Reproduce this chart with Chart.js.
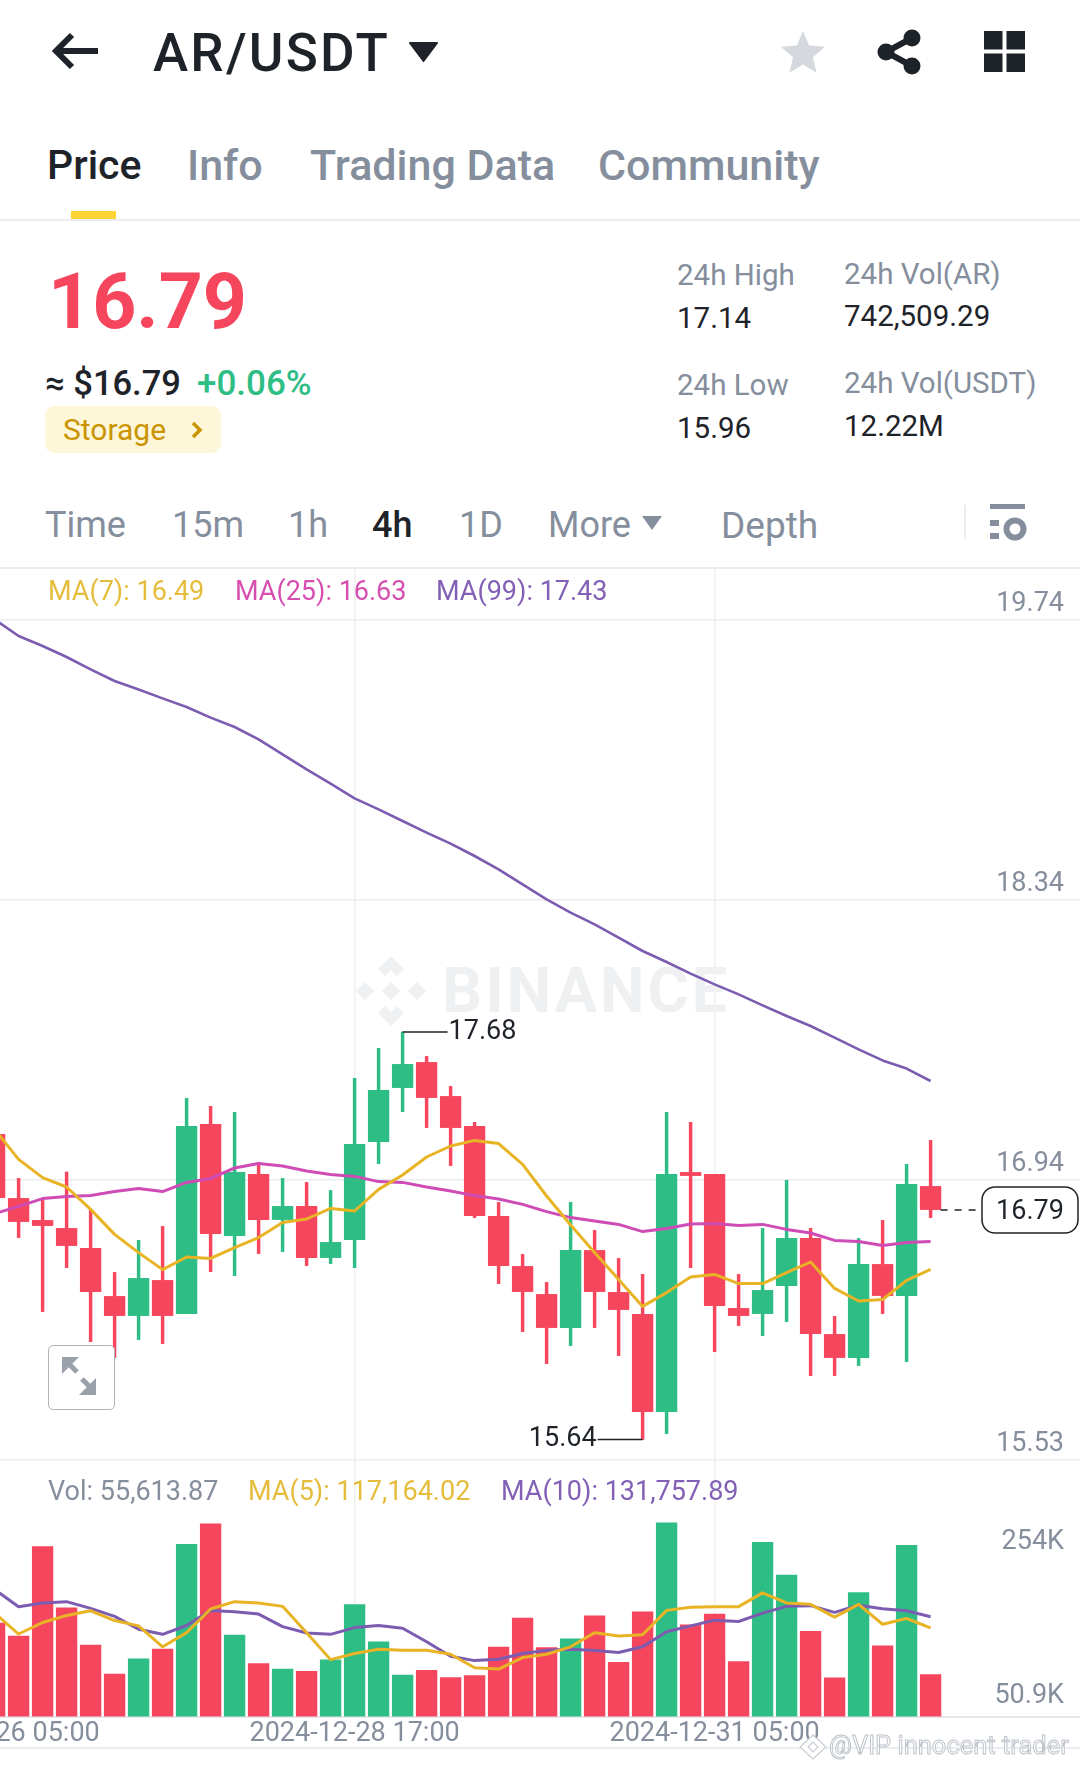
<!DOCTYPE html>
<html>
<head>
<meta charset="utf-8">
<title>AR/USDT</title>
<script src="https://cdn.jsdelivr.net/npm/chart.js@4"></script>
<style>
  html, body { margin: 0; padding: 0; background: #fff; }
  #page { position: relative; width: 1080px; height: 1767px; overflow: hidden; font-family: Roboto, sans-serif; color: #1e2329; }
  .t { position: absolute; white-space: nowrap; line-height: 1; transform: translateY(-50%); }
  .grey { color: #848e9c; }
  .rule { position: absolute; left: 0; width: 1080px; height: 2px; background: #eaecef; }
  svg { position: absolute; }
  canvas { position: absolute; left: 0; display: block; }
  #priceCanvas { top: 568px; }
  #volCanvas { top: 1459px; }
</style>
</head>
<body>
<div id="page">
  <!-- header -->
  <svg style="left:52px;top:32px" width="47" height="38" viewBox="0 0 47 38"><path d="M20 3 L4 19 L20 35 M4 19 H46" fill="none" stroke="#1e2329" stroke-width="6"/></svg>
  <div class="t" style="left:153px;top:53px;font-size:53px;font-weight:500;letter-spacing:2.2px">AR/USDT</div>
  <svg style="left:409px;top:42px" width="29" height="20" viewBox="0 0 29 20"><path d="M1 1 H28 L14.5 19 Z" fill="#1e2329" stroke="#1e2329" stroke-linejoin="round" stroke-width="2"/></svg>
  <svg style="left:780px;top:29px" width="46" height="46" viewBox="0 0 24 24"><path d="M12 1 L15.2 8.6 L23.5 9.3 L17.2 14.7 L19.1 22.8 L12 18.5 L4.9 22.8 L6.8 14.7 L0.5 9.3 L8.8 8.6 Z" fill="#d5d9de"/></svg>
  <svg style="left:876px;top:29px" width="46" height="46" viewBox="0 0 46 46"><path d="M36 9 L10 23 L36 37" fill="none" stroke="#1e2329" stroke-width="6"/><circle cx="36" cy="9" r="8.5" fill="#1e2329"/><circle cx="10" cy="23" r="8.5" fill="#1e2329"/><circle cx="36" cy="37" r="8.5" fill="#1e2329"/></svg>
  <svg style="left:984px;top:31px" width="41" height="41" viewBox="0 0 41 41"><rect width="18.5" height="18.5" fill="#1e2329"/><rect x="22.5" width="18.5" height="18.5" fill="#1e2329"/><rect y="22.5" width="18.5" height="18.5" fill="#1e2329"/><rect x="22.5" y="22.5" width="18.5" height="18.5" fill="#1e2329"/></svg>

  <!-- tabs -->
  <div class="t" style="left:47px;top:165px;font-size:41px;font-weight:500">Price</div>
  <div class="t grey" style="left:187px;top:165px;font-size:43px;font-weight:500">Info</div>
  <div class="t grey" style="left:310px;top:165px;font-size:43px;font-weight:500">Trading Data</div>
  <div class="t grey" style="left:598px;top:165px;font-size:43px;font-weight:500">Community</div>
  <div style="position:absolute;left:71px;top:211px;width:45px;height:8px;background:#fcd535"></div>
  <div class="rule" style="top:219px"></div>

  <!-- price block -->
  <div class="t" style="left:48px;top:302px;font-size:77px;font-weight:700;color:#f6465d">16.79</div>
  <div class="t" style="left:45px;top:383px;font-size:34.5px;font-weight:500">≈ $16.79</div>
  <div class="t" style="left:197px;top:383px;font-size:35px;font-weight:500;color:#2ebd85">+0.06%</div>
  <div style="position:absolute;left:45px;top:406px;width:176px;height:47px;border-radius:9px;background:#fef6d8"></div>
  <div class="t" style="left:63px;top:430px;font-size:30px;color:#c99400">Storage</div>
  <svg style="left:191px;top:421px" width="12" height="18" viewBox="0 0 12 18"><path d="M2 2 L9 9 L2 16" fill="none" stroke="#c99400" stroke-width="3.5"/></svg>

  <div class="t grey" style="left:677px;top:276px;font-size:29.5px">24h High</div>
  <div class="t" style="left:677px;top:319px;font-size:29.5px">17.14</div>
  <div class="t grey" style="left:844px;top:275px;font-size:29.5px">24h Vol(AR)</div>
  <div class="t" style="left:844px;top:317px;font-size:29.5px">742,509.29</div>
  <div class="t grey" style="left:677px;top:386px;font-size:29.5px">24h Low</div>
  <div class="t" style="left:677px;top:429px;font-size:29.5px">15.96</div>
  <div class="t grey" style="left:844px;top:384px;font-size:29.5px">24h Vol(USDT)</div>
  <div class="t" style="left:844px;top:427px;font-size:29.5px">12.22M</div>

  <!-- interval bar -->
  <div class="t grey" style="left:45px;top:525px;font-size:36px">Time</div>
  <div class="t grey" style="left:172px;top:525px;font-size:36px">15m</div>
  <div class="t grey" style="left:288px;top:525px;font-size:36px">1h</div>
  <div class="t" style="left:372px;top:525px;font-size:36px;font-weight:500">4h</div>
  <div class="t grey" style="left:459px;top:525px;font-size:36px">1D</div>
  <div class="t grey" style="left:548px;top:525px;font-size:36px">More</div>
  <svg style="left:641px;top:515px" width="22" height="16" viewBox="0 0 22 16"><path d="M1 1 H21 L11 15 Z" fill="#848e9c"/></svg>
  <div class="t grey" style="left:721px;top:525px;font-size:37px">Depth</div>
  <div style="position:absolute;left:964px;top:505px;width:2px;height:34px;background:#eaecef"></div>
  <svg style="left:990px;top:504px" width="38" height="38" viewBox="0 0 38 38"><g fill="#848e9c"><rect width="35" height="5"/><rect y="16" width="9" height="6"/><rect y="29" width="9" height="6"/></g><circle cx="25" cy="25" r="8.5" fill="none" stroke="#848e9c" stroke-width="6"/></svg>
  <div class="rule" style="top:567px"></div>

  <!-- watermark under the charts -->
  <svg style="left:354px;top:954px" width="74" height="74" viewBox="0 0 74 74"><g fill="#eef0f2"><path d="M37 2 L50 15 L43 22 L37 16 L31 22 L24 15 Z"/><path d="M2 37 L11 28 L20 37 L11 46 Z"/><path d="M54 37 L63 28 L72 37 L63 46 Z"/><path d="M37 28 L46 37 L37 46 L28 37 Z"/><path d="M37 72 L24 59 L31 52 L37 58 L43 52 L50 59 Z"/></g></svg>
  <div class="t" style="left:442px;top:990px;font-size:63px;font-weight:700;color:#eef0f2;letter-spacing:3px">BINANCE</div>

  <canvas id="priceCanvas" width="1080" height="895"></canvas>
  <canvas id="volCanvas" width="1080" height="292"></canvas>

  <div class="t" style="left:48px;top:591px;font-size:27px;color:#e6bc3c">MA(7): 16.49</div>
  <div class="t" style="left:235px;top:591px;font-size:27px;color:#d64fb0">MA(25): 16.63</div>
  <div class="t" style="left:436px;top:591px;font-size:27px;color:#8260b5">MA(99): 17.43</div>

  <div style="position:absolute;left:48px;top:1345px;width:65px;height:63px;border:1.5px solid #aeb4bc;border-radius:5px;background:#fff"></div>
  <svg style="left:61px;top:1356px" width="40" height="42" viewBox="0 0 40 42"><g fill="#9aa1ab"><path d="M1 1 H18 L1 18 Z"/><path d="M35 39 H18 L35 22 Z"/></g><path d="M8 8 L16 16 M28 30 L21 23" stroke="#9aa1ab" stroke-width="5"/></svg>

  <div class="t grey" style="left:48px;top:1491px;font-size:27px">Vol: 55,613.87</div>
  <div class="t" style="left:248px;top:1491px;font-size:27px;color:#e6bc3c">MA(5): 117,164.02</div>
  <div class="t" style="left:501px;top:1491px;font-size:27px;color:#8260b5">MA(10): 131,757.89</div>

  <div class="rule" style="top:1747px"></div>
  <svg style="left:798px;top:1733px" width="30" height="28" viewBox="0 0 30 28"><path d="M15 2 L28 14 L15 26 L2 14 Z M15 9 L20 14 L15 19 L10 14 Z" fill="#fff" stroke="#c8cdd3" stroke-width="1.2"/></svg>
  <div class="t" style="left:829px;top:1746px;font-size:25.5px;color:#fff;-webkit-text-stroke:1px #bfc5cc">@VIP innocent trader</div>
</div>

<script>
// candles, oldest first, one every 4 hours from 2024-12-26 05:00
const opens = [17.168, 16.848, 16.738, 16.698, 16.598, 16.358, 16.262, 16.438, 16.272, 17.218,
  16.662, 16.968, 16.742, 16.808, 16.552, 16.642, 17.132, 17.402, 17.528, 17.358,
  17.208, 16.758, 16.508, 16.368, 16.202, 16.588, 16.378, 16.268, 15.782, 16.978,
  16.968, 16.298, 16.272, 16.412, 16.648, 16.168, 16.052, 16.518, 16.362, 16.908];
const closes = [16.852, 16.732, 16.712, 16.612, 16.382, 16.262, 16.448, 16.262, 17.208, 16.672,
  16.978, 16.742, 16.808, 16.552, 16.628, 17.118, 17.388, 17.518, 17.352, 17.202,
  16.762, 16.512, 16.382, 16.202, 16.588, 16.382, 16.292, 15.782, 16.968, 16.962,
  16.312, 16.262, 16.388, 16.648, 16.172, 16.052, 16.518, 16.362, 16.918, 16.792];
const highs = [17.25, 16.948, 16.843, 16.98, 16.793, 16.478, 16.638, 16.708, 17.348, 17.308,
  17.278, 17.027, 16.948, 16.928, 16.888, 17.448, 17.598, 17.68, 17.558, 17.408,
  17.228, 16.828, 16.568, 16.428, 16.828, 16.688, 16.548, 16.468, 17.278, 17.228,
  16.968, 16.468, 16.698, 16.938, 16.698, 16.258, 16.648, 16.738, 17.018, 17.138];
const lows = [16.75, 16.652, 16.282, 16.502, 16.132, 16.052, 16.142, 16.122, 16.272, 16.482,
  16.462, 16.572, 16.582, 16.512, 16.522, 16.502, 17.022, 17.282, 17.202, 17.012,
  16.752, 16.422, 16.182, 16.022, 16.112, 16.202, 16.062, 15.643, 15.672, 16.502,
  16.082, 16.212, 16.162, 16.232, 15.962, 15.962, 16.012, 16.272, 16.032, 16.752];

const ma7 = [17.193, 17.043, 16.952, 16.905, 16.793, 16.668, 16.577, 16.492, 16.555, 16.548,
  16.602, 16.652, 16.728, 16.745, 16.798, 16.785, 16.893, 16.965, 17.055, 17.11,
  17.138, 17.122, 17.018, 16.86, 16.715, 16.577, 16.443, 16.308, 16.377, 16.455,
  16.468, 16.422, 16.422, 16.477, 16.53, 16.398, 16.335, 16.342, 16.438, 16.493];
const ma25 = [16.772, 16.808, 16.847, 16.857, 16.863, 16.883, 16.897, 16.882, 16.928, 16.948,
  17.0, 17.022, 17.01, 16.985, 16.967, 16.958, 16.932, 16.928, 16.905, 16.885,
  16.862, 16.845, 16.818, 16.782, 16.752, 16.735, 16.718, 16.682, 16.698, 16.72,
  16.722, 16.713, 16.718, 16.693, 16.675, 16.638, 16.632, 16.612, 16.628, 16.633];
const ma99 = [19.743, 19.66, 19.61, 19.555, 19.493, 19.435, 19.393, 19.348, 19.305, 19.252,
  19.205, 19.143, 19.068, 18.993, 18.922, 18.848, 18.793, 18.735, 18.677, 18.622,
  18.56, 18.493, 18.418, 18.343, 18.277, 18.218, 18.152, 18.085, 18.03, 17.972,
  17.918, 17.868, 17.813, 17.76, 17.71, 17.652, 17.593, 17.538, 17.497, 17.435];

const volumes = [123300, 106400, 224300, 143700, 94300, 56100, 76100, 89000, 227400, 254500,
  107700, 69900, 62700, 59600, 74800, 147700, 98800, 54700, 61000, 51600,
  54300, 91700, 129900, 91200, 102800, 133000, 71600, 138400, 255900, 121000,
  135300, 72500, 230000, 186900, 112600, 51200, 163800, 93500, 226000, 55614];
const volMa5 = [136600, 109000, 124200, 133500, 139700, 126800, 119700, 92100, 110800, 142000,
  151700, 150000, 145500, 110800, 75200, 83200, 89000, 87700, 87700, 82300,
  64500, 62700, 77900, 82300, 92100, 110800, 106400, 108100, 140200, 144200,
  145100, 145100, 163300, 150000, 148200, 131300, 148200, 121900, 129500, 117164];
const volMa10 = [167800, 145100, 150000, 151700, 142800, 132200, 115300, 108600, 120200, 140200,
  138400, 135300, 118800, 110400, 108600, 117500, 120200, 116600, 98800, 79700,
  73900, 75700, 83200, 87700, 89000, 87200, 84600, 92100, 112100, 119700,
  127300, 125500, 136600, 145500, 146400, 137500, 146900, 142400, 139700, 131758];

const priceTicks = [15.54, 16.94, 18.34, 19.74];
const priceTickLabels = ['15.53', '16.94', '18.34', '19.74'];
const volTicks = [50900, 254000];
const volTickLabels = ['50.9K', '254K'];
const timeTicks = [0, 15, 30];
const timeLabels = ['2024-12-26 05:00', '2024-12-28 17:00', '2024-12-31 05:00'];
const lastPrice = 16.79;

const GREEN = '#2ebd85', RED = '#f6465d', GREY = '#848e9c', INK = '#1e2329';
const YELLOW = '#e8b425', PINK = '#cf4bb5', PURPLE = '#7c5cb0';
const FONT = 'Roboto';

const xRange = { min: 0.225, max: 45.225 };
const isUp = opens.map((o, i) => closes[i] > o);
const candleColors = isUp.map(u => u ? GREEN : RED);
const pts = arr => arr.map((y, x) => ({ x, y }));
const bars = (a, b) => a.map((v, x) => ({ x, y: [v, b[x]] }));

function line(label, data, color, width) {
  return { type: 'line', label, data: pts(data), borderColor: color, borderWidth: width, pointRadius: 0, tension: 0, borderJoinStyle: 'round', order: 0 };
}

function xScale(showLabels) {
  return {
    type: 'linear', bounds: 'data', offset: false, min: xRange.min, max: xRange.max,
    afterBuildTicks: s => { s.ticks = timeTicks.map(value => ({ value })); },
    afterFit: s => { s.paddingLeft = 0; s.paddingRight = 0; },
    grid: { offset: false, color: '#eff0f2', lineWidth: 1.5, drawTicks: false },
    border: { display: showLabels, color: '#e6e8ec', width: 2 },
    ticks: {
      display: showLabels, autoSkip: false, maxRotation: 0, minRotation: 0, padding: 1,
      color: GREY, font: { family: FONT, size: 27 },
      callback: v => timeLabels[timeTicks.indexOf(v)]
    }
  };
}

function yFit(s) {
  s.width = 0;
  s.paddingTop = 0;
  s.paddingBottom = 0;
}

// hi/lo call-outs and the last price tag
const priceNotes = {
  id: 'priceNotes',
  afterDatasetsDraw(chart) {
    const { ctx, scales: { x, y } } = chart;
    const hi = highs.indexOf(Math.max(...highs)), lo = lows.indexOf(Math.min(...lows));
    ctx.save();
    ctx.font = '27px ' + FONT;
    ctx.textBaseline = 'middle';
    ctx.strokeStyle = INK;
    ctx.fillStyle = INK;
    ctx.lineWidth = 1.5;

    const hx = x.getPixelForValue(hi), hy = y.getPixelForValue(highs[hi]);
    ctx.beginPath(); ctx.moveTo(hx, hy); ctx.lineTo(hx + 45, hy); ctx.stroke();
    ctx.textAlign = 'left';
    ctx.fillText(highs[hi].toFixed(2), hx + 46, hy);

    const lx = x.getPixelForValue(lo), ly = y.getPixelForValue(lows[lo]);
    ctx.beginPath(); ctx.moveTo(lx, ly); ctx.lineTo(lx - 45, ly); ctx.stroke();
    ctx.textAlign = 'right';
    ctx.fillText(lows[lo].toFixed(2), lx - 46, ly);

    const py = y.getPixelForValue(lastPrice);
    ctx.setLineDash([7, 7]);
    ctx.beginPath(); ctx.moveTo(x.getPixelForValue(39) + 10, py); ctx.lineTo(982, py); ctx.stroke();
    ctx.setLineDash([]);
    ctx.beginPath(); ctx.roundRect(982, py - 23, 96, 46, 13);
    ctx.fillStyle = '#fff'; ctx.fill(); ctx.stroke();
    ctx.fillStyle = INK;
    ctx.textAlign = 'center';
    ctx.fillText(lastPrice.toFixed(2), 1030, py + 2);
    ctx.restore();
  }
};

new Chart(document.getElementById('priceCanvas'), {
  type: 'bar',
  data: {
    datasets: [
      line('MA(7)', ma7, YELLOW, 3),
      line('MA(25)', ma25, PINK, 3),
      line('MA(99)', ma99, PURPLE, 2.6),
      { label: 'body', data: bars(opens, closes), backgroundColor: candleColors, barThickness: 20.7, grouped: false, order: 1 },
      { label: 'wick', data: bars(lows, highs), backgroundColor: candleColors, barThickness: 2.8, grouped: false, order: 2 }
    ]
  },
  options: {
    responsive: false, animation: false,
    layout: { padding: { bottom: 1 } },
    plugins: { legend: { display: false }, tooltip: { enabled: false } },
    scales: {
      x: xScale(false),
      y: {
        position: 'right', bounds: 'data', min: 15.53, max: 20,
        afterBuildTicks: s => { s.ticks = priceTicks.map(value => ({ value })); },
        afterFit: yFit,
        grid: { color: '#eaecef', lineWidth: 1.5, drawTicks: false },
        border: { display: false },
        ticks: { mirror: true, padding: -16, labelOffset: -16, color: GREY, font: { family: FONT, size: 27 }, callback: v => priceTickLabels[priceTicks.indexOf(v)] }
      }
    }
  },
  plugins: [priceNotes]
});

new Chart(document.getElementById('volCanvas'), {
  type: 'bar',
  data: {
    datasets: [
      line('MA(5)', volMa5, YELLOW, 3),
      line('MA(10)', volMa10, PURPLE, 3),
      { label: 'Vol', data: pts(volumes), backgroundColor: candleColors, barThickness: 20.7, grouped: false, order: 1 }
    ]
  },
  options: {
    responsive: false, animation: false,
    plugins: { legend: { display: false }, tooltip: { enabled: false } },
    scales: {
      x: xScale(true),
      y: {
        position: 'right', bounds: 'data', min: 0, max: 340000,
        afterBuildTicks: s => { s.ticks = volTicks.map(value => ({ value })); },
        afterFit: yFit,
        grid: { display: false, drawTicks: false },
        border: { display: false },
        ticks: { mirror: true, padding: -16, labelOffset: 18, color: GREY, font: { family: FONT, size: 27 }, callback: v => volTickLabels[volTicks.indexOf(v)] }
      }
    }
  }
});
</script>
</body>
</html>
